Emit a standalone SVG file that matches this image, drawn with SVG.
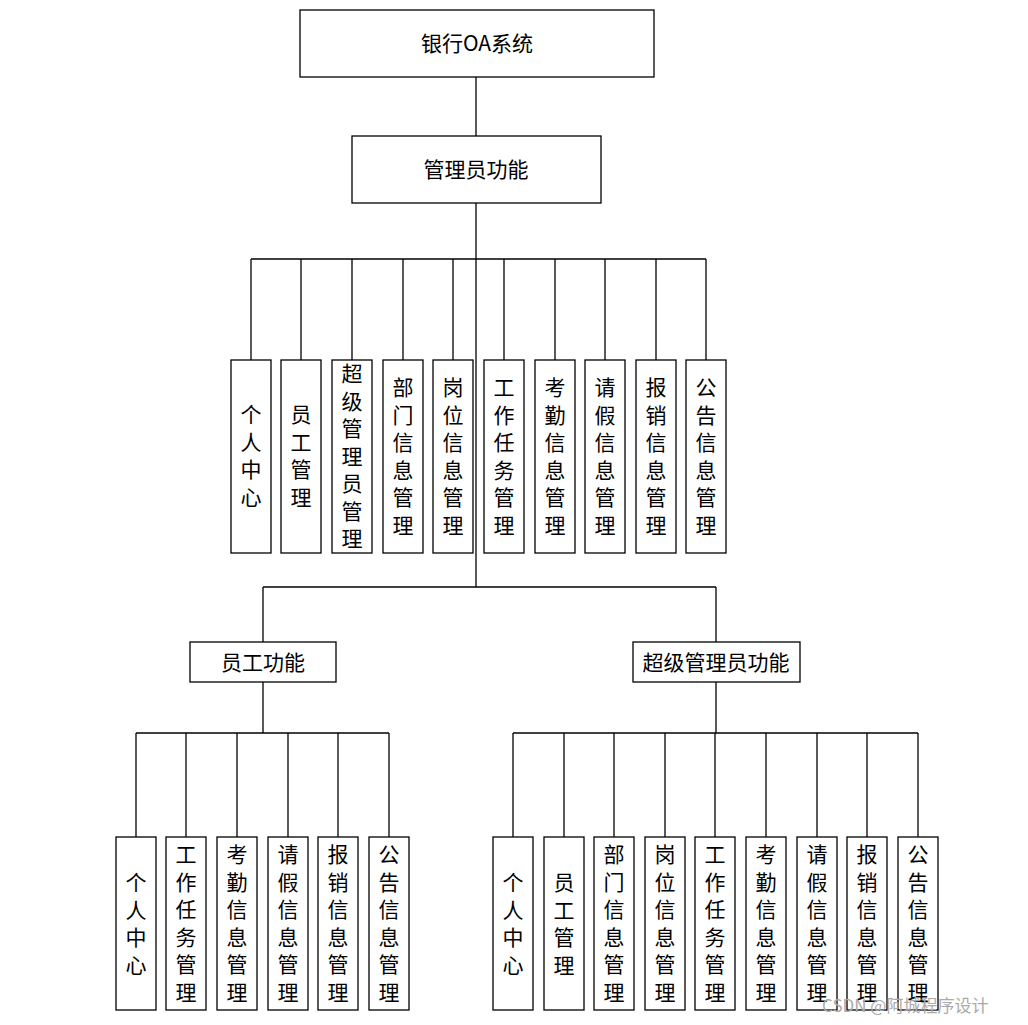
<svg xmlns="http://www.w3.org/2000/svg" width="1028" height="1025" viewBox="0 0 1028 1025">
<style>
rect{fill:#fff;stroke:#000;stroke-width:1.3}
text{font-family:"Noto Sans CJK SC","Noto Sans",sans-serif;font-size:21px;fill:#000;text-anchor:middle}
.c line{stroke:#000;stroke-width:1.3}
.wm{font-size:17px;fill:#aaa;text-anchor:start}
</style>
<rect x="0" y="0" width="1028" height="1025" style="fill:#fff;stroke:none"/>
<g class="c">
<line x1="476" y1="77" x2="476" y2="136"/>
<line x1="476" y1="203" x2="476" y2="587"/>
<line x1="251" y1="259" x2="706" y2="259"/>
<line x1="251" y1="259" x2="251" y2="360"/><line x1="301" y1="259" x2="301" y2="360"/><line x1="352" y1="259" x2="352" y2="360"/><line x1="403" y1="259" x2="403" y2="360"/><line x1="453" y1="259" x2="453" y2="360"/><line x1="504" y1="259" x2="504" y2="360"/><line x1="555" y1="259" x2="555" y2="360"/><line x1="605" y1="259" x2="605" y2="360"/><line x1="656" y1="259" x2="656" y2="360"/><line x1="706" y1="259" x2="706" y2="360"/>
<line x1="263" y1="587" x2="716" y2="587"/>
<line x1="263" y1="587" x2="263" y2="642"/><line x1="716" y1="587" x2="716" y2="642"/>
<line x1="263" y1="682" x2="263" y2="733"/><line x1="716" y1="682" x2="716" y2="733"/>
<line x1="136" y1="733" x2="389" y2="733"/>
<line x1="136" y1="733" x2="136" y2="837"/><line x1="186" y1="733" x2="186" y2="837"/><line x1="237" y1="733" x2="237" y2="837"/><line x1="288" y1="733" x2="288" y2="837"/><line x1="338" y1="733" x2="338" y2="837"/><line x1="389" y1="733" x2="389" y2="837"/>
<line x1="513" y1="733" x2="918" y2="733"/>
<line x1="513" y1="733" x2="513" y2="837"/><line x1="564" y1="733" x2="564" y2="837"/><line x1="614" y1="733" x2="614" y2="837"/><line x1="665" y1="733" x2="665" y2="837"/><line x1="715" y1="733" x2="715" y2="837"/><line x1="766" y1="733" x2="766" y2="837"/><line x1="817" y1="733" x2="817" y2="837"/><line x1="867" y1="733" x2="867" y2="837"/><line x1="918" y1="733" x2="918" y2="837"/>
</g>
<g id="root"><rect x="300" y="10" width="354" height="67"/><text x="477" y="51">银行OA系统</text></g>
<g id="admin"><rect x="352" y="136" width="249" height="67"/><text x="476" y="177">管理员功能</text></g>
<g id="emp"><rect x="190" y="642" width="146" height="40"/><text x="263" y="670">员工功能</text></g>
<g id="super"><rect x="633" y="642" width="167" height="40"/><text x="716" y="670">超级管理员功能</text></g>

<g id="a1"><rect x="231" y="360" width="40" height="193"/><text><tspan x="251" y="422">个</tspan><tspan x="251" dy="27.5">人</tspan><tspan x="251" dy="27.5">中</tspan><tspan x="251" dy="27.5">心</tspan></text></g>
<g id="a2"><rect x="281" y="360" width="40" height="193"/><text><tspan x="301" y="422">员</tspan><tspan x="301" dy="27.5">工</tspan><tspan x="301" dy="27.5">管</tspan><tspan x="301" dy="27.5">理</tspan></text></g>
<g id="a3"><rect x="332" y="360" width="40" height="193"/><text><tspan x="352" y="381">超</tspan><tspan x="352" dy="27.5">级</tspan><tspan x="352" dy="27.5">管</tspan><tspan x="352" dy="27.5">理</tspan><tspan x="352" dy="27.5">员</tspan><tspan x="352" dy="27.5">管</tspan><tspan x="352" dy="27.5">理</tspan></text></g>
<g id="a4"><rect x="383" y="360" width="40" height="193"/><text><tspan x="403" y="395">部</tspan><tspan x="403" dy="27.5">门</tspan><tspan x="403" dy="27.5">信</tspan><tspan x="403" dy="27.5">息</tspan><tspan x="403" dy="27.5">管</tspan><tspan x="403" dy="27.5">理</tspan></text></g>
<g id="a5"><rect x="433" y="360" width="40" height="193"/><text><tspan x="453" y="395">岗</tspan><tspan x="453" dy="27.5">位</tspan><tspan x="453" dy="27.5">信</tspan><tspan x="453" dy="27.5">息</tspan><tspan x="453" dy="27.5">管</tspan><tspan x="453" dy="27.5">理</tspan></text></g>
<g id="a6"><rect x="484" y="360" width="40" height="193"/><text><tspan x="504" y="395">工</tspan><tspan x="504" dy="27.5">作</tspan><tspan x="504" dy="27.5">任</tspan><tspan x="504" dy="27.5">务</tspan><tspan x="504" dy="27.5">管</tspan><tspan x="504" dy="27.5">理</tspan></text></g>
<g id="a7"><rect x="535" y="360" width="40" height="193"/><text><tspan x="555" y="395">考</tspan><tspan x="555" dy="27.5">勤</tspan><tspan x="555" dy="27.5">信</tspan><tspan x="555" dy="27.5">息</tspan><tspan x="555" dy="27.5">管</tspan><tspan x="555" dy="27.5">理</tspan></text></g>
<g id="a8"><rect x="585" y="360" width="40" height="193"/><text><tspan x="605" y="395">请</tspan><tspan x="605" dy="27.5">假</tspan><tspan x="605" dy="27.5">信</tspan><tspan x="605" dy="27.5">息</tspan><tspan x="605" dy="27.5">管</tspan><tspan x="605" dy="27.5">理</tspan></text></g>
<g id="a9"><rect x="636" y="360" width="40" height="193"/><text><tspan x="656" y="395">报</tspan><tspan x="656" dy="27.5">销</tspan><tspan x="656" dy="27.5">信</tspan><tspan x="656" dy="27.5">息</tspan><tspan x="656" dy="27.5">管</tspan><tspan x="656" dy="27.5">理</tspan></text></g>
<g id="a10"><rect x="686" y="360" width="40" height="193"/><text><tspan x="706" y="395">公</tspan><tspan x="706" dy="27.5">告</tspan><tspan x="706" dy="27.5">信</tspan><tspan x="706" dy="27.5">息</tspan><tspan x="706" dy="27.5">管</tspan><tspan x="706" dy="27.5">理</tspan></text></g>

<g id="e1"><rect x="116" y="837" width="40" height="173"/><text><tspan x="136" y="890">个</tspan><tspan x="136" dy="27.5">人</tspan><tspan x="136" dy="27.5">中</tspan><tspan x="136" dy="27.5">心</tspan></text></g>
<g id="e2"><rect x="166" y="837" width="40" height="173"/><text><tspan x="186" y="862">工</tspan><tspan x="186" dy="27.5">作</tspan><tspan x="186" dy="27.5">任</tspan><tspan x="186" dy="27.5">务</tspan><tspan x="186" dy="27.5">管</tspan><tspan x="186" dy="27.5">理</tspan></text></g>
<g id="e3"><rect x="217" y="837" width="40" height="173"/><text><tspan x="237" y="862">考</tspan><tspan x="237" dy="27.5">勤</tspan><tspan x="237" dy="27.5">信</tspan><tspan x="237" dy="27.5">息</tspan><tspan x="237" dy="27.5">管</tspan><tspan x="237" dy="27.5">理</tspan></text></g>
<g id="e4"><rect x="268" y="837" width="40" height="173"/><text><tspan x="288" y="862">请</tspan><tspan x="288" dy="27.5">假</tspan><tspan x="288" dy="27.5">信</tspan><tspan x="288" dy="27.5">息</tspan><tspan x="288" dy="27.5">管</tspan><tspan x="288" dy="27.5">理</tspan></text></g>
<g id="e5"><rect x="318" y="837" width="40" height="173"/><text><tspan x="338" y="862">报</tspan><tspan x="338" dy="27.5">销</tspan><tspan x="338" dy="27.5">信</tspan><tspan x="338" dy="27.5">息</tspan><tspan x="338" dy="27.5">管</tspan><tspan x="338" dy="27.5">理</tspan></text></g>
<g id="e6"><rect x="369" y="837" width="40" height="173"/><text><tspan x="389" y="862">公</tspan><tspan x="389" dy="27.5">告</tspan><tspan x="389" dy="27.5">信</tspan><tspan x="389" dy="27.5">息</tspan><tspan x="389" dy="27.5">管</tspan><tspan x="389" dy="27.5">理</tspan></text></g>

<g id="s1"><rect x="493" y="837" width="40" height="173"/><text><tspan x="513" y="890">个</tspan><tspan x="513" dy="27.5">人</tspan><tspan x="513" dy="27.5">中</tspan><tspan x="513" dy="27.5">心</tspan></text></g>
<g id="s2"><rect x="544" y="837" width="40" height="173"/><text><tspan x="564" y="890">员</tspan><tspan x="564" dy="27.5">工</tspan><tspan x="564" dy="27.5">管</tspan><tspan x="564" dy="27.5">理</tspan></text></g>
<g id="s3"><rect x="594" y="837" width="40" height="173"/><text><tspan x="614" y="862">部</tspan><tspan x="614" dy="27.5">门</tspan><tspan x="614" dy="27.5">信</tspan><tspan x="614" dy="27.5">息</tspan><tspan x="614" dy="27.5">管</tspan><tspan x="614" dy="27.5">理</tspan></text></g>
<g id="s4"><rect x="645" y="837" width="40" height="173"/><text><tspan x="665" y="862">岗</tspan><tspan x="665" dy="27.5">位</tspan><tspan x="665" dy="27.5">信</tspan><tspan x="665" dy="27.5">息</tspan><tspan x="665" dy="27.5">管</tspan><tspan x="665" dy="27.5">理</tspan></text></g>
<g id="s5"><rect x="695" y="837" width="40" height="173"/><text><tspan x="715" y="862">工</tspan><tspan x="715" dy="27.5">作</tspan><tspan x="715" dy="27.5">任</tspan><tspan x="715" dy="27.5">务</tspan><tspan x="715" dy="27.5">管</tspan><tspan x="715" dy="27.5">理</tspan></text></g>
<g id="s6"><rect x="746" y="837" width="40" height="173"/><text><tspan x="766" y="862">考</tspan><tspan x="766" dy="27.5">勤</tspan><tspan x="766" dy="27.5">信</tspan><tspan x="766" dy="27.5">息</tspan><tspan x="766" dy="27.5">管</tspan><tspan x="766" dy="27.5">理</tspan></text></g>
<g id="s7"><rect x="797" y="837" width="40" height="173"/><text><tspan x="817" y="862">请</tspan><tspan x="817" dy="27.5">假</tspan><tspan x="817" dy="27.5">信</tspan><tspan x="817" dy="27.5">息</tspan><tspan x="817" dy="27.5">管</tspan><tspan x="817" dy="27.5">理</tspan></text></g>
<g id="s8"><rect x="847" y="837" width="40" height="173"/><text><tspan x="867" y="862">报</tspan><tspan x="867" dy="27.5">销</tspan><tspan x="867" dy="27.5">信</tspan><tspan x="867" dy="27.5">息</tspan><tspan x="867" dy="27.5">管</tspan><tspan x="867" dy="27.5">理</tspan></text></g>
<g id="s9"><rect x="898" y="837" width="40" height="173"/><text><tspan x="918" y="862">公</tspan><tspan x="918" dy="27.5">告</tspan><tspan x="918" dy="27.5">信</tspan><tspan x="918" dy="27.5">息</tspan><tspan x="918" dy="27.5">管</tspan><tspan x="918" dy="27.5">理</tspan></text></g>

<text class="wm" x="822" y="1012">CSDN @阿城程序设计</text>
</svg>
